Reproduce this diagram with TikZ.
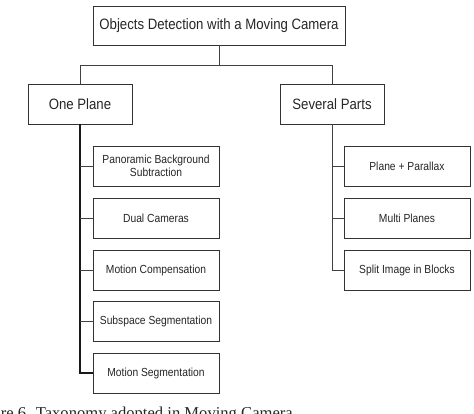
\documentclass[tikz,border=0pt]{standalone}
\usepackage{fontspec}
\setmainfont{Liberation Sans}
\newfontfamily\diagfont[FakeStretch=0.88]{Liberation Sans}
\newfontfamily\capfont{Liberation Serif}
\begin{document}
\begin{tikzpicture}[x=1pt,y=-1pt,
  box/.style={draw=black!80,line width=0.9pt,fill=white,inner sep=1pt,align=center,text=black!85},
  topbox/.style={box,minimum width=252pt,minimum height=39pt,font=\diagfont\fontsize{15}{17}\selectfont},
  midbox/.style={box,minimum width=104pt,minimum height=40pt,font=\diagfont\fontsize{15}{17}\selectfont},
  leaf/.style={box,minimum width=126pt,minimum height=40pt,font=\diagfont\fontsize{11.7}{13.5}\selectfont},
  conn/.style={draw=black!75,line width=0.8pt},
  trunk/.style={draw=black!90,line width=1.2pt}]
\useasboundingbox (0,0) rectangle (474,414);
\clip (0,0) rectangle (474,414);
\fill[white] (0,0) rectangle (474,414);

\node[topbox] (top) at (219,25.5) {Objects Detection with a Moving Camera};
\node[midbox] (one) at (80,104) {One Plane};
\node[midbox] (sev) at (332,104) {Several Parts};

\node[leaf] (pbs) at (156,166) {Panoramic Background\\Subtraction};
\node[leaf] (dc)  at (156,218) {Dual Cameras};
\node[leaf] (mc)  at (156,270) {Motion Compensation};
\node[leaf] (ss)  at (156,321) {Subspace Segmentation};
\node[leaf] (ms)  at (156,373) {Motion Segmentation};

\node[leaf] (pp) at (407,166) {Plane + Parallax};
\node[leaf] (mp) at (407,218) {Multi Planes};
\node[leaf] (sb) at (407,270) {Split Image in Blocks};

\coordinate (j) at (219,65);
\draw[conn] (top.south) -- (j);
\draw[conn] (j) -| (one.north);
\draw[conn] (j) -| (sev.north);

\draw[trunk] (one.south) |- (ms.west);
\foreach \n in {pbs,dc,mc,ss}
  \draw[conn] (\n.west) -- (\n.west -| one.south);

\draw[conn] (sev.south) |- (sb.west);
\foreach \n in {pp,mp}
  \draw[conn] (\n.west) -- (\n.west -| sev.south);

\node[anchor=base east,inner sep=0pt,font=\capfont\fontsize{16.6}{18}\selectfont,text=black!85] (cap) at (293,418) {Figure 6. Taxonomy adopted in Moving Camera};
\end{tikzpicture}
\end{document}
